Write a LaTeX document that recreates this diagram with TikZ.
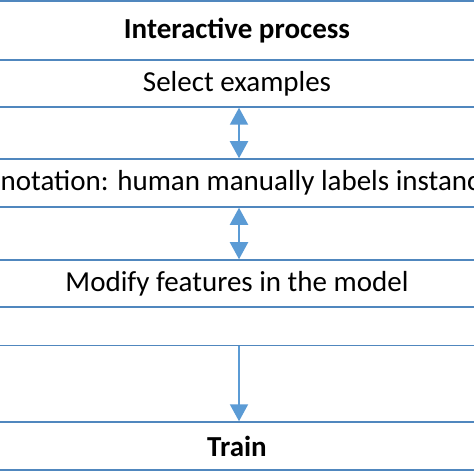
\documentclass[tikz,border=0pt]{standalone}
\usepackage{fontspec}
\setmainfont{Carlito}
\usetikzlibrary{arrows.meta}
\definecolor{rule}{RGB}{80,135,190}
\definecolor{arr}{RGB}{91,155,213}
\tikzset{
  band/.style={draw=rule, line width=1.5bp, minimum width=700bp, inner sep=0pt,
    font=\fontsize{29bp}{34bp}\selectfont, text=black},
  conn/.style={draw=arr, line width=2bp, arrows={-Triangle[width=18bp,length=17bp]}},
  dconn/.style={draw=arr, line width=2bp, arrows={Triangle[width=18bp,length=17bp]-Triangle[width=18bp,length=17bp]}}
}
\begin{document}
\begin{tikzpicture}[x=1bp,y=-1bp]
\useasboundingbox (0,0) rectangle (474,474);
\fill[white] (0,0) rectangle (474,474);
\clip (0,0) rectangle (474,474);
\node[band, minimum height=59bp, font=\fontsize{29bp}{34bp}\selectfont\bfseries] (head) at (237,30.5) {Interactive process};
\node[band, minimum height=47bp] (sel) at (237,83.5) {Select examples};
\node[band, minimum height=48bp] (ann) at (237,183) {Annotation: human manually labels instances};
\node[band, minimum height=47bp] (mod) at (237,283.5) {Modify features in the model};
\node[band, minimum height=48bp, font=\fontsize{29bp}{34bp}\selectfont\bfseries] (train) at (237,446) {Train};
\coordinate (gapL) at (-10,345.5);
\coordinate (gapR) at (484,345.5);
\draw[draw=rule, line width=1.5bp] (gapL) -- (gapR);
\coordinate (gapA) at (239,345.5);
\draw[dconn] (sel.south -| gapA) -- (ann.north -| gapA);
\draw[dconn] (ann.south -| gapA) -- (mod.north -| gapA);
\draw[conn] (gapA) -- (train.north -| gapA);
\end{tikzpicture}
\end{document}
